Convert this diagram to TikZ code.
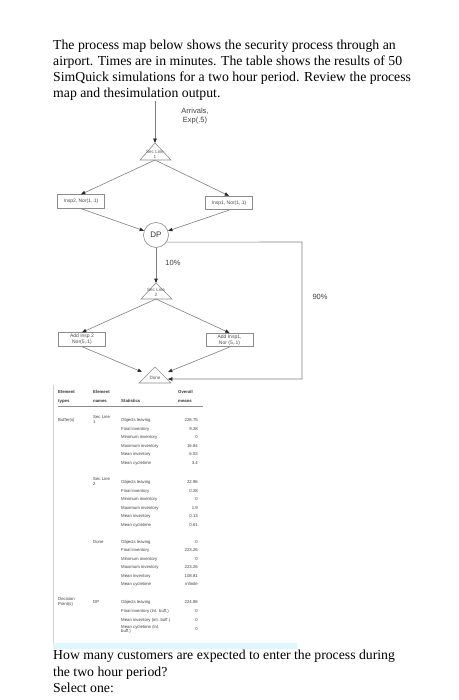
\documentclass[tikz,border=0pt]{standalone}
\usepackage{fontspec}
\setmainfont{Liberation Serif}
\setsansfont{Liberation Sans}
\usetikzlibrary{arrows.meta}
\begin{document}
\begin{tikzpicture}[x=1pt,y=-1pt,
  para/.style={anchor=base west, inner sep=0, font=\fontsize{13.75}{16}\selectfont},
  ln/.style={draw=black!50, line width=0.6pt},
  arr/.style={ln, -{Triangle[length=4.3pt,width=3.4pt,color=black!85]}},
  box/.style={draw=black!45, line width=0.8pt, minimum width=47pt, minimum height=13.5pt, inner sep=0, font=\sffamily\fontsize{5}{5.7}\selectfont, text=black!70, align=center},
  tri/.style={draw=black!45, line width=0.6pt},
  trilab/.style={inner sep=0, font=\sffamily\fontsize{4.6}{5}\selectfont, text=black!65},
  lab/.style={inner sep=0, font=\sffamily\fontsize{7.5}{8.4}\selectfont, text=black!75, align=center},
  th/.style={anchor=base west, inner sep=0, font=\sffamily\bfseries\fontsize{4.3}{5}\selectfont, text=black!80},
  td/.style={anchor=base west, inner sep=0, font=\sffamily\fontsize{4.3}{5}\selectfont, text=black!75},
  tv/.style={anchor=base east, inner sep=0, font=\sffamily\fontsize{4.3}{5}\selectfont, text=black!75},
]
\useasboundingbox[fill=white] (0,0) rectangle (458,700);

% ---- top paragraph ----
\node[para] (p1) at (53,50) {The process map below shows the security process through an};
\node[para] (p2) at (53,65.7) {airport. Times are in minutes. The table shows the results of 50};
\node[para] (p3) at (53,81.4) {SimQuick simulations for a two hour period. Review the process};
\node[para] (p4) at (53,97.1) {map and thesimulation output.};

% ---- process map ----
\coordinate (arrtop) at (155,101);
\node[lab] (arrlab) at (195,116) {Arrivals,\\Exp(.5)};

% Sec Line 1 triangle
\coordinate (t1a) at (155,143);
\coordinate (t1l) at (140,160);
\coordinate (t1r) at (171,160);
\coordinate (t1b) at (155,160);
\draw[tri] (t1a) -- (t1l) -- (t1r) -- cycle;
\node[trilab] (t1lab) at (155,152) {Sec Line};
\node[trilab] (t1num) at (155,157) {1};

\node[box] (insp2) at (81,201.5) {Insp2, Nor(1,.1)};
\node[box] (insp1) at (229,203) {Insp1, Nor(1,.1)};

\node[circle, draw=black!45, line width=0.6pt, minimum size=25pt, inner sep=0,
      font=\sffamily\fontsize{8}{8}\selectfont, text=black!80] (dp) at (156,235) {DP};

% Sec Line 2 triangle
\coordinate (t2a) at (156,283);
\coordinate (t2l) at (141,299);
\coordinate (t2r) at (172,299);
\coordinate (t2b) at (156,299);
\draw[tri] (t2a) -- (t2l) -- (t2r) -- cycle;
\node[trilab] (t2lab) at (156,290) {Sec Line};
\node[trilab] (t2num) at (156,295) {2};

\node[box] (add2) at (82,339.5) {Add Insp 2\\Nor(5,.1)};
\node[box] (add1) at (229.5,340) {Add Insp1,\\Nor (5,.1)};

% Done triangle
\coordinate (t3a) at (155,367);
\coordinate (t3l) at (139,383);
\coordinate (t3r) at (171,383);
\draw[tri] (t3a) -- (t3l) -- (t3r) -- cycle;
\node[trilab] (donelab) at (155,377.5) {Done};
\coordinate (doneL) at (142,372);
\coordinate (doneR) at (168,372);
\coordinate (doneE) at (168,379);

\node[lab] (p10) at (173,263) {10\%};
\node[lab] (p90) at (320,297) {90\%};

\coordinate (c1) at (302,242);
\coordinate (c2) at (302,379);

% connectors
\draw[arr] (arrtop) -- (t1a);
\draw[arr] (t1b) -- (insp2.north);
\draw[arr] (t1b) -- (insp1.north);
\draw[arr] (insp2.south) -- (dp);
\draw[arr] (insp1.south) -- (dp);
\draw[arr] (dp.south) -- (t2a);
\draw[arr] (dp.-34) -- (c1) -- (c2) -- (doneE);
\draw[arr] (t2b) -- (add2.north);
\draw[arr] (t2b) -- (add1.north);
\draw[arr] (add2.south) -- (doneL);
\draw[arr] (add1.south) -- (doneR);

% ---- table ----
\draw[draw=black!18, line width=0.6pt] (53,385) coordinate (tl1) -- (53,643) coordinate (tl2);
\fill[fill=blue!30!cyan!12] (53,643) rectangle (297,648.5);

\node[th] (h1a) at (58,393.5) {Element};
\node[th] (h1b) at (58,402.5) {types};
\node[th] (h2a) at (93,393.5) {Element};
\node[th] (h2b) at (93,402.5) {names};
\node[th] (h3) at (121,402.5) {Statistics};
\node[th] (h4a) at (178,393.5) {Overall};
\node[th] (h4b) at (178,402.5) {means};
\draw[draw=black!45, line width=0.5pt] (58,406) coordinate (hl1) -- (203,406) coordinate (hl2);

% Buffers / Sec Line 1
\node[td] (bt) at (58,421.5) {Buffer(s)};
\node[td] (n1a) at (93,418.5) {Sec Line};
\node[td] (n1b) at (93,423.5) {1};
\foreach \s/\v [count=\i from 0] in {Objects leaving/226.75, Final inventory/9.28, Minimum inventory/0, Maximum inventory/16.84, Mean inventory/6.53, Mean cycletime/3.4}{
  \node[td] (s1\i) at (121,421.5+8.6*\i) {\s};
  \node[tv] (v1\i) at (198,421.5+8.6*\i) {\v};
}
% Sec Line 2
\node[td] (n2a) at (93,480.5) {Sec Line};
\node[td] (n2b) at (93,485.5) {2};
\foreach \s/\v [count=\i from 0] in {Objects leaving/22.96, Final inventory/0.28, Minimum inventory/0, Maximum inventory/1.9, Mean inventory/0.13, Mean cycletime/0.61}{
  \node[td] (s2\i) at (121,483.5+8.6*\i) {\s};
  \node[tv] (v2\i) at (198,483.5+8.6*\i) {\v};
}
% Done
\node[td] (n3) at (93,543.5) {Done};
\foreach \s/\v [count=\i from 0] in {Objects leaving/0, Final inventory/223.26, Minimum inventory/0, Maximum inventory/223.26, Mean inventory/108.81, Mean cycletime/infinite}{
  \node[td] (s3\i) at (121,543.5+8.4*\i) {\s};
  \node[tv] (v3\i) at (198,543.5+8.4*\i) {\v};
}
% Decision point
\node[td] (dt1) at (58,600.5) {Decision};
\node[td] (dt2) at (58,605) {Point(s)};
\node[td] (n4) at (93,603.5) {DP};
\node[td] (s40) at (121,603.5) {Objects leaving};
\node[tv] (v40) at (198,603.5) {224.86};
\node[td] (s41) at (121,612.5) {Final inventory (int. buff.)};
\node[tv] (v41) at (198,612.5) {0};
\node[td] (s42) at (121,621.5) {Mean inventory (int. buff.)};
\node[tv] (v42) at (198,621.5) {0};
\node[td] (s43a) at (121,628.3) {Mean cycletime (int.};
\node[td] (s43b) at (121,632.6) {buff.)};
\node[tv] (v43) at (198,630.5) {0};

% ---- bottom question ----
\node[para] (q1) at (53,659.5) {How many customers are expected to enter the process during};
\node[para] (q2) at (53,676) {the two hour period?};
\node[para] (q3) at (53,692.5) {Select one:};
\end{tikzpicture}
\end{document}
